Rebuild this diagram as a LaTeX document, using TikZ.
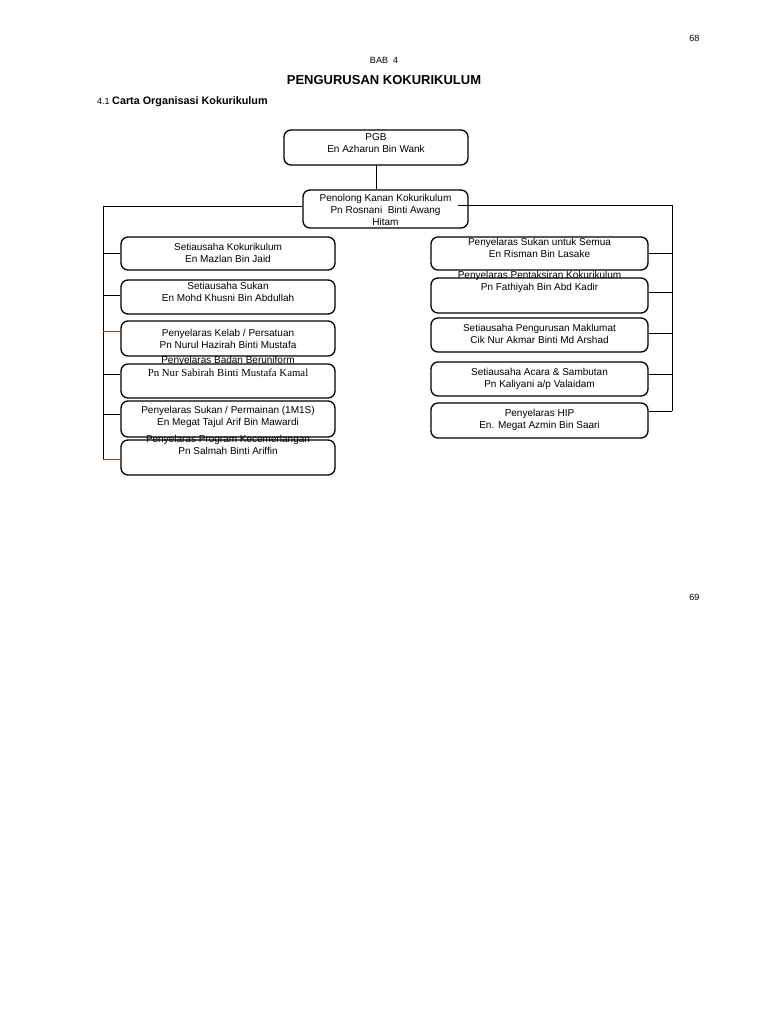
\documentclass[tikz,border=0pt]{standalone}
\usepackage{fontspec}
\setmainfont{Liberation Sans}
\newfontfamily\tnr{Liberation Serif}
\begin{document}
\begin{tikzpicture}[x=1pt,y=-1pt,
  box/.style={draw,line width=1.3pt,rounded corners=7pt,inner sep=0pt},
  txt/.style={font=\fontsize{10}{12}\selectfont,align=center,inner sep=0pt},
  conn/.style={line width=0.7pt},
  redconn/.style={line width=0.7pt,draw={rgb,255:red,190;green,60;blue,60}}]
\useasboundingbox[fill=white] (0,0) rectangle (768,1024);
% header
\node[font=\fontsize{9}{10}\selectfont,anchor=east] (p68) at (703,38) {68};
\node[font=\fontsize{9}{10}\selectfont] (bab) at (384,60) {BAB\ \ 4};
\node[font=\fontsize{13}{15}\selectfont\bfseries] (title) at (384,80) {PENGURUSAN KOKURIKULUM};
\node[anchor=west,inner sep=0pt] (sec) at (97,102) {{\fontsize{9}{11}\selectfont 4.1 }{\fontsize{10.8}{12}\selectfont\bfseries Carta Organisasi Kokurikulum}};
\node[font=\fontsize{9}{10}\selectfont,anchor=east] (p69) at (703,597) {69};
% top boxes
\node[box,minimum width=184,minimum height=35] (pgb) at (376,147.5) {};
\node[txt] (pgbt) at (376,143) {PGB\\En Azharun Bin Wank};
\node[box,minimum width=165,minimum height=38] (pk) at (385.5,209) {};
\node[txt] (pkt) at (385.5,209.5) {Penolong Kanan Kokurikulum\\Pn Rosnani\ \ Binti Awang\\Hitam};
\coordinate (pgbs) at (376,165);
\draw[conn] (pgbs) -- (pgbs |- pk.north);
% left boxes
\node[box,minimum width=214,minimum height=33] (l1) at (228,253.5) {};
\node[txt] (l1t) at (228,253) {Setiausaha Kokurikulum\\En Mazlan Bin Jaid};
\node[box,minimum width=214,minimum height=34] (l2) at (228,297) {};
\node[txt] (l2t) at (228,292) {Setiausaha Sukan\\En Mohd Khusni Bin Abdullah};
\node[box,minimum width=214,minimum height=35] (l3) at (228,338.5) {};
\node[txt] (l3t) at (228,339) {Penyelaras Kelab / Persatuan\\Pn Nurul Hazirah Binti Mustafa};
\node[box,minimum width=214,minimum height=34] (l4) at (228,381) {};
\node[txt] (l4t) at (228,361) {Penyelaras Badan Beruniform};
\node[font=\fontsize{10.8}{12}\tnr,inner sep=0pt] (l4u) at (228,373) {Pn Nur Sabirah Binti Mustafa Kamal};
\node[box,minimum width=214,minimum height=36] (l5) at (228,419) {};
\node[txt] (l5t) at (228,416.5) {Penyelaras Sukan / Permainan (1M1S)\\En Megat Tajul Arif Bin Mawardi};
\node[box,minimum width=214,minimum height=35] (l6) at (228,457.5) {};
\node[txt] (l6t) at (228,444.5) {Penyelaras Program Kecemerlangan\\Pn Salmah Binti Ariffin};
% right boxes
\node[box,minimum width=217,minimum height=33] (r1) at (539.5,253.5) {};
\node[txt] (r1t) at (539.5,247.5) {Penyelaras Sukan untuk Semua\\En Risman Bin Lasake};
\node[box,minimum width=217,minimum height=35] (r2) at (539.5,295.5) {};
\node[txt] (r2t) at (539.5,282) {Penyelaras Pentaksiran Kokurikulum\\Pn Fathiyah Bin Abd Kadir};
\node[box,minimum width=217,minimum height=34] (r3) at (539.5,335) {};
\node[txt] (r3t) at (539.5,333.5) {Setiausaha Pengurusan Maklumat\\Cik Nur Akmar Binti Md Arshad};
\node[box,minimum width=217,minimum height=34] (r4) at (539.5,379) {};
\node[txt] (r4t) at (539.5,379) {Setiausaha Acara \& Sambutan\\Pn Kaliyani a/p Valaidam};
\node[box,minimum width=217,minimum height=35] (r5) at (539.5,420.5) {};
\node[txt] (r5t) at (539.5,419.5) {Penyelaras HIP\\En. Megat Azmin Bin Saari};
% trunk coordinates
\coordinate (LT) at (103,206);
\coordinate (LB) at (103,459);
\coordinate (RS) at (458,205);
\coordinate (RT) at (672,205);
\coordinate (RB) at (672,411);
\coordinate (pkw) at ([yshift=2.5]pk.west);
\draw[conn] (pkw) -- (pkw -| LT) -- (LB);
\draw[conn] (RS) -- (RT) -- (RB);
% connector anchor points (yshift is in canvas units: positive = up)
\coordinate (c2) at ([yshift=2]l2.west);
\coordinate (c3) at ([yshift=7.5]l3.west);
\coordinate (c4) at ([yshift=7]l4.west);
\coordinate (c5) at ([yshift=5]l5.west);
\coordinate (d2) at ([yshift=3.5]r2.east);
\coordinate (d3) at ([yshift=2]r3.east);
\coordinate (d4) at ([yshift=5]r4.east);
% left connectors
\draw[conn] (LT |- l1.west) -- (l1.west);
\draw[conn] (LT |- c2) -- (c2);
\draw[redconn] (LT |- c3) -- (c3);
\draw[conn] (LT |- c4) -- (c4);
\draw[conn] (LT |- c5) -- (c5);
\draw[redconn] (LB) -- (LB -| l6.west);
% right connectors
\draw[conn] (r1.east) -- (RT |- r1.east);
\draw[conn] (d2) -- (RT |- d2);
\draw[conn] (d3) -- (RT |- d3);
\draw[conn] (d4) -- (RT |- d4);
\draw[conn] (RB -| r5.east) -- (RB);
\end{tikzpicture}
\end{document}
